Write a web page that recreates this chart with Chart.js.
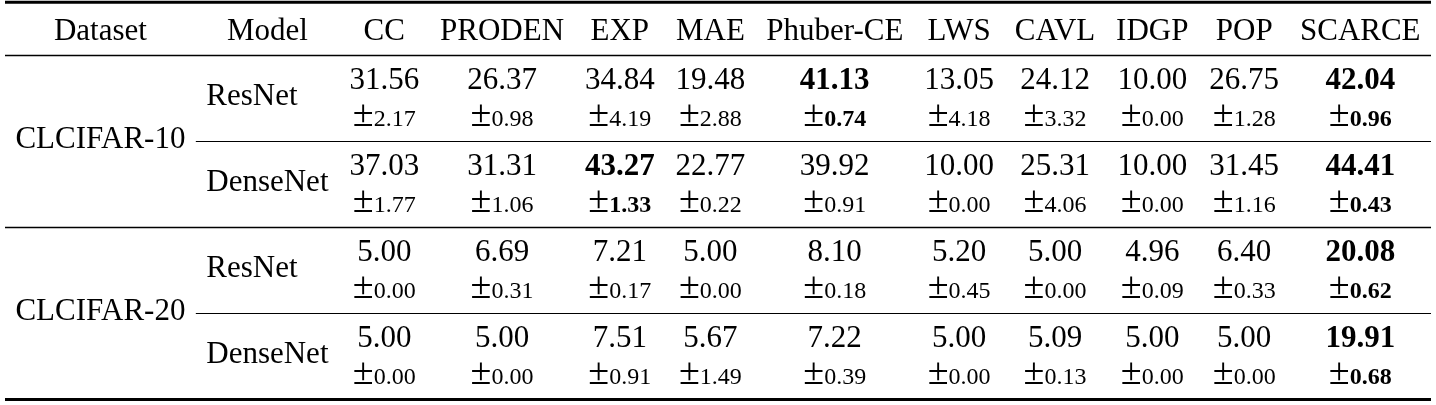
<!DOCTYPE html>
<html>
<head>
<meta charset="utf-8">
<script src="https://cdn.jsdelivr.net/npm/chart.js@4.4.1/dist/chart.umd.min.js"></script>
<style>
  html, body { margin: 0; padding: 0; background: #fff; }
  #wrap { width: 1436px; height: 405px; }
</style>
</head>
<body>
<div id="wrap"><canvas id="tbl" width="1436" height="405"></canvas></div>
<script>
const methods = ['CC', 'PRODEN', 'EXP', 'MAE', 'Phuber-CE', 'LWS', 'CAVL', 'IDGP', 'POP', 'SCARCE'];
const dataNames = ['CLCIFAR-10', 'CLCIFAR-20'];
const models = ['ResNet', 'DenseNet'];

const c10ResNetMean = [31.56, 26.37, 34.84, 19.48, 41.13, 13.05, 24.12, 10.00, 26.75, 42.04];
const c10ResNetStd  = [2.17, 0.98, 4.19, 2.88, 0.74, 4.18, 3.32, 0.00, 1.28, 0.96];
const c10DenseMean  = [37.03, 31.31, 43.27, 22.77, 39.92, 10.00, 25.31, 10.00, 31.45, 44.41];
const c10DenseStd   = [1.77, 1.06, 1.33, 0.22, 0.91, 0.00, 4.06, 0.00, 1.16, 0.43];
const c20ResNetMean = [5.00, 6.69, 7.21, 5.00, 8.10, 5.20, 5.00, 4.96, 6.40, 20.08];
const c20ResNetStd  = [0.00, 0.31, 0.17, 0.00, 0.18, 0.45, 0.00, 0.09, 0.33, 0.62];
const c20DenseMean  = [5.00, 5.00, 7.51, 5.67, 7.22, 5.00, 5.09, 5.00, 5.00, 19.91];
const c20DenseStd   = [0.00, 0.00, 0.91, 1.49, 0.39, 0.00, 0.13, 0.00, 0.00, 0.68];

// columns printed in bold, one list per row
const boldCols = [[4, 9], [2, 9], [9], [9]];

const rows = [
    { mean: c10ResNetMean, std: c10ResNetStd },
    { mean: c10DenseMean, std: c10DenseStd },
    { mean: c20ResNetMean, std: c20ResNetStd },
    { mean: c20DenseMean, std: c20DenseStd },
];

const FONT_FAMILY = '"Liberation Serif", "Times New Roman", serif';
const BIG = 31;
const SMALL = 24;
const PM = 38; // the math-style plus-minus sign is drawn larger
const fontOf = (size, bold) => (bold ? 'bold ' : '') + size + 'px ' + FONT_FAMILY;

const tablePlugin = {
    id: 'booktabs',
    afterDraw(chart) {
        const ctx = chart.ctx;
        const xs = chart.scales.x;
        const ys = chart.scales.y;
        const tableW = xs.right - xs.left;

        // natural width of each column, from the text it holds
        const widthOf = (txt, size, bold) => { ctx.font = fontOf(size, bold); return ctx.measureText(txt).width; };
        const stdWidth = (v, bold) => widthOf('\u00b1', PM, false) + widthOf(v.toFixed(2), SMALL, bold);
        const colW = [];
        colW.push(Math.max(widthOf('Dataset', BIG), ...dataNames.map(d => widthOf(d, BIG))));
        colW.push(Math.max(widthOf('Model', BIG), ...models.map(m => widthOf(m, BIG))));
        methods.forEach((m, j) => {
            let w = widthOf(m, BIG);
            rows.forEach((r, i) => {
                const b = boldCols[i].includes(j);
                w = Math.max(w, widthOf(r.mean[j].toFixed(2), BIG, b), stdWidth(r.std[j], b));
            });
            colW.push(w);
        });
        const sumW = colW.reduce((a, c) => a + c, 0);
        const pad = (tableW - sumW) / (2 * colW.length);
        const edges = [0];
        colW.forEach(w => edges.push(edges[edges.length - 1] + (w + 2 * pad) / tableW));
        const colLeft = j => xs.getPixelForValue(edges[j]);
        const colMid = j => xs.getPixelForValue((edges[j] + edges[j + 1]) / 2);

        ctx.save();
        ctx.fillStyle = '#000';
        ctx.strokeStyle = '#000';
        ctx.textBaseline = 'alphabetic';

        const rule = (v, lw, x0) => {
            const y = ys.getPixelForValue(v);
            ctx.lineWidth = lw;
            ctx.beginPath();
            ctx.moveTo(x0 === undefined ? xs.left : x0, y);
            ctx.lineTo(xs.right, y);
            ctx.stroke();
        };
        rule(-0.62, 3);
        rule(0, 1.6);
        rule(1, 1.2, colLeft(1));
        rule(2, 1.6);
        rule(3, 1.2, colLeft(1));
        rule(4, 3);

        // header
        ctx.font = fontOf(BIG);
        ctx.textAlign = 'center';
        const hy = ys.getPixelForValue(-0.18);
        ['Dataset', 'Model', ...methods].forEach((h, j) => ctx.fillText(h, colMid(j), hy));

        // dataset names span two rows each
        dataNames.forEach((d, k) => {
            ctx.font = fontOf(BIG);
            ctx.textAlign = 'center';
            ctx.fillText(d, colMid(0), ys.getPixelForValue(2 * k + 1.08));
        });

        rows.forEach((r, i) => {
            ctx.font = fontOf(BIG);
            ctx.textAlign = 'left';
            ctx.fillText(models[i % 2], colLeft(1) + pad, ys.getPixelForValue(i + 0.58));

            const yMean = ys.getPixelForValue(i + 0.39);
            const yStd = ys.getPixelForValue(i + 0.815);
            methods.forEach((m, j) => {
                const b = boldCols[i].includes(j);
                const cx = colMid(j + 2);
                ctx.font = fontOf(BIG, b);
                ctx.textAlign = 'center';
                ctx.fillText(r.mean[j].toFixed(2), cx, yMean);

                const pm = widthOf('\u00b1', PM, false);
                const sw = stdWidth(r.std[j], b);
                const x0 = cx - sw / 2;
                ctx.textAlign = 'left';
                ctx.font = fontOf(PM);
                ctx.fillText('\u00b1', x0, yStd);
                ctx.font = fontOf(SMALL, b);
                ctx.fillText(r.std[j].toFixed(2), x0 + pm, yStd);
            });
        });
        ctx.restore();
    }
};

new Chart(document.getElementById('tbl'), {
    type: 'scatter',
    data: { datasets: [{ data: [] }] },
    options: {
        responsive: false,
        animation: false,
        layout: { padding: { left: 5, right: 5, top: 0, bottom: 0 } },
        scales: {
            x: { type: 'linear', min: 0, max: 1, display: false },
            y: { type: 'linear', min: -0.645, max: 4.064, reverse: true, display: false },
        },
        plugins: {
            legend: { display: false },
            tooltip: { enabled: false },
        },
    },
    plugins: [tablePlugin],
});
</script>
</body>
</html>
